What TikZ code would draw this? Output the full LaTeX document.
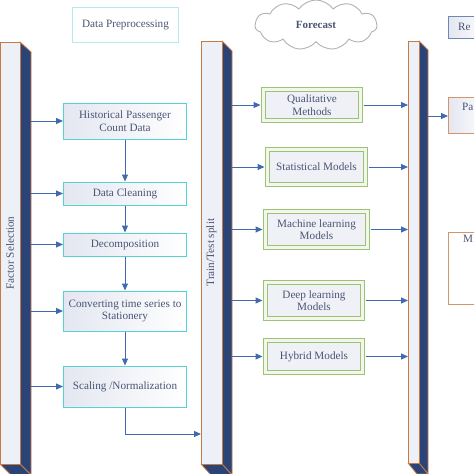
\documentclass[tikz,border=0pt]{standalone}
\usepackage{fontspec}
\setmainfont{Liberation Serif}
\usetikzlibrary{shapes.symbols,arrows.meta}
\definecolor{arrblue}{HTML}{4169B0}
\definecolor{navy}{HTML}{2B4478}
\definecolor{barorange}{HTML}{C87A45}
\definecolor{barface}{HTML}{EEF0F8}
\definecolor{txt}{HTML}{4A5574}
\definecolor{cyanline}{HTML}{55D2D2}
\definecolor{greenline}{HTML}{9CC27A}
\definecolor{greenfill}{HTML}{F2F7EA}
\definecolor{boxgrad}{HTML}{E4E7F1}
\definecolor{steel}{HTML}{7088B0}
\begin{document}
\begin{tikzpicture}[x=1pt,y=-1pt,
  every node/.style={font=\fontsize{11.2}{12.5}\selectfont, text=txt},
  arr/.style={draw=arrblue, line width=1pt, -{Triangle[length=7pt,width=6pt]}},
  cyanbox/.style={draw=cyanline, line width=1pt, left color=boxgrad, right color=white, minimum width=123, align=center, inner sep=1pt},
  greenbox/.style={draw=greenline, double=greenfill, double distance=3pt, line width=1pt, fill=boxgrad!60, align=center, inner sep=1pt},
  darkface/.style={fill=navy, draw=barorange, line width=0.8pt, line join=round},
  frontface/.style={fill=barface, draw=barorange, line width=1pt, inner sep=0pt},
  sidebox/.style={line width=1pt, anchor=north west, inner sep=0pt}
]
\clip (0,0) rectangle (474,474);
\fill[white] (0,0) rectangle (474,474);

% ---------- left bar ----------
\path[darkface] (20,42) -- (31,52) -- (31,475) -- (20,464) -- cycle;
\path[darkface] (0,464) -- (20,464) -- (31,475) -- (11,475) -- cycle;
\node[frontface, rotate=90, minimum width=422, minimum height=20] (fs) at (10,253) {Factor Selection};
\coordinate (Lout) at (31,0);

% ---------- middle bar ----------
\path[darkface] (222,41) -- (232,51) -- (232,475) -- (222,464) -- cycle;
\path[darkface] (201,464) -- (222,464) -- (232,475) -- (211,475) -- cycle;
\node[frontface, rotate=90, minimum width=423, minimum height=21] (tt) at (211.5,252.5) {Train/Test split};
\coordinate (Min) at (201,434);
\coordinate (Mout) at (232,0);

% ---------- right bar ----------
\path[darkface] (419,41) -- (428,50) -- (428,474) -- (419,463) -- cycle;
\path[darkface] (408,463) -- (419,463) -- (428,474) -- (417,474) -- cycle;
\node[frontface, minimum width=11, minimum height=422] (rb) at (413.5,252) {};
\coordinate (Rin) at (408,0);
\coordinate (Rout) at (428,0);

% ---------- header items ----------
\node[draw=cyanline!45, line width=1pt, minimum width=106, minimum height=35] (dp) at (125.5,25) {Data Preprocessing};
\node[cloud, cloud puffs=11, cloud puff arc=110, aspect=2.4, draw=gray!60, line width=0.9pt, fill=white,
      minimum width=122, minimum height=50, font=\fontsize{11}{12}\selectfont\bfseries] (fc) at (316,25) {Forecast};

% ---------- preprocessing chain ----------
\node[cyanbox, minimum height=36] (hist) at (125,121) {Historical Passenger\\Count Data};
\node[cyanbox, minimum height=23] (clean) at (125,193.5) {Data Cleaning};
\node[cyanbox, minimum height=23] (dec) at (125,244.5) {Decomposition};
\node[cyanbox, minimum height=40] (conv) at (125,311) {Converting time series to\\Stationery};
\node[cyanbox, minimum height=41] (scal) at (125,386.5) {Scaling /Normalization};

\foreach \b in {hist,clean,dec,conv,scal}
  \draw[arr] (\b.west -| Lout) -- (\b.west);
\draw[arr] (hist) -- (clean);
\draw[arr] (clean) -- (dec);
\draw[arr] (dec) -- (conv);
\draw[arr] (conv) -- (scal);
\draw[arr] (scal.south) |- (Min);

% ---------- models ----------
\node[greenbox, minimum width=97, minimum height=31] (qual) at (312,105) {Qualitative\\Methods};
\node[greenbox, minimum width=98, minimum height=35] (stat) at (316.5,167) {Statistical Models};
\node[greenbox, minimum width=102, minimum height=36] (ml) at (316.5,229.5) {Machine learning\\Models};
\node[greenbox, minimum width=97, minimum height=36] (dl) at (314,300.5) {Deep learning\\Models};
\node[greenbox, minimum width=97, minimum height=32] (hyb) at (314,356.5) {Hybrid Models};

\foreach \b in {qual,stat,ml,dl,hyb}{
  \draw[arr] (\b.west -| Mout) -- ([xshift=-2.5pt]\b.west);
  \draw[arr] ([xshift=2.5pt]\b.east) -- (\b.east -| Rin);
}

% ---------- right column (cut off) ----------
\node[sidebox, draw=steel, left color=boxgrad, right color=white, minimum width=40, minimum height=22] (res) at (448,16) {};
\node[anchor=west, inner sep=0pt] (restxt) at (458,27) {Re};
\node[sidebox, draw=barorange!80, left color=boxgrad, right color=white, minimum width=40, minimum height=36] (pa) at (448,97) {};
\node[anchor=west, inner sep=0pt] (patxt) at (462,107) {Pa};
\node[sidebox, draw=barorange!80, fill=white, minimum width=40, minimum height=72] (mb) at (448,232) {};
\node[anchor=west, inner sep=0pt] (mtxt) at (463,239) {M};
\coordinate (pain) at (448,116);
\draw[arr] (pain -| Rout) -- (pain);
\end{tikzpicture}
\end{document}
